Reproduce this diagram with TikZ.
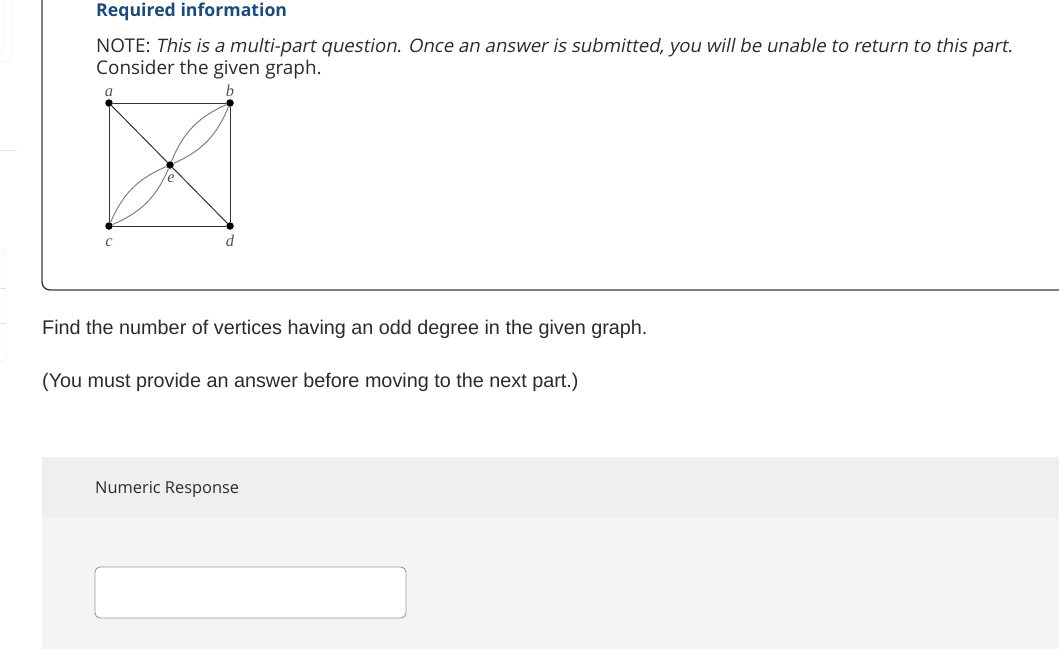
\documentclass[tikz,border=0pt]{standalone}
\usepackage{fontspec}
\setmainfont{Liberation Serif}
\newfontfamily\uifont{Open Sans}
\newfontfamily\uislant{Open Sans}[FakeSlant=0.2]
\newfontfamily\arialfont{Liberation Sans}
\definecolor{frameblue}{HTML}{2C3E50}
\definecolor{titleblue}{HTML}{1E4A78}
\definecolor{bodytext}{HTML}{2B2B2B}
\definecolor{bandgray}{HTML}{EFEFEF}
\definecolor{panelgray}{HTML}{F4F4F4}
\definecolor{faint}{HTML}{E2E2E2}
\definecolor{edgegray}{HTML}{333333}
\tikzset{
  vtx/.style={circle,fill=black,inner sep=0pt,minimum size=7.5pt},
  vlabel/.style={anchor=base,inner sep=0pt,font=\fontsize{16.5}{16}\selectfont\itshape,text=edgegray!85},
  txt/.style={anchor=base west,inner sep=0pt,text=bodytext}
}
\begin{document}
\begin{tikzpicture}[x=1pt,y=-1pt]
\useasboundingbox (0,0) rectangle (1059,649);

\draw[faint,rounded corners=6pt] (-10,-10) rectangle (12,62);
\draw[faint,rounded corners=4pt] (3,-10) -- (3,55) -- (-10,55);
\draw[faint] (0,150) -- (17,150);
\draw[faint,rounded corners=4pt] (-10,249) rectangle (6,361);
\draw[faint] (0,288) -- (6,288);
\draw[faint] (0,323) -- (6,323);

\draw[frameblue,line width=1.4pt,rounded corners=8pt] (42,-5) -- (42,290) -- (1065,290);

\node[txt,text=titleblue,font=\uifont\bfseries\fontsize{17.7}{20}\selectfont] (title) at (96,16) {Required information};
\node[txt,font=\uifont\fontsize{18.9}{20}\selectfont] (note) at (96,52) {NOTE: {\uislant\fontsize{18.6}{20}\selectfont This is a multi-part question. Once an answer is submitted, you will be unable to return to this part.}};
\node[txt,font=\uifont\fontsize{18.9}{20}\selectfont] (consider) at (96,74) {Consider the given graph.};

\node[vtx] (a) at (109,103) {};
\node[vtx] (b) at (230,103) {};
\node[vtx] (c) at (109,226) {};
\node[vtx] (d) at (230,226) {};
\node[vtx] (e) at (170,165) {};
\node[vlabel] (la) at (109,96) {a};
\node[vlabel] (lb) at (230,96) {b};
\node[vlabel] (lc) at (109,246) {c};
\node[vlabel] (ld) at (230,246) {d};
\node[vlabel] (le) at (171,182) {e};

\draw[edgegray,line width=1pt] (a) -- (b) -- (d) -- (c) -- (a);
\draw[edgegray,line width=1pt] (a) -- (e) -- (d);
\draw[gray,line width=1pt] (e) to[bend left=22] (b);
\draw[gray,line width=1pt] (e) to[bend right=22] (b);
\draw[gray,line width=1pt] (c) to[bend left=22] (e);
\draw[gray,line width=1pt] (c) to[bend right=22] (e);

\node[txt,font=\arialfont\fontsize{19.8}{22}\selectfont] (question) at (42,334) {Find the number of vertices having an odd degree in the given graph.};
\node[txt,font=\arialfont\fontsize{19.8}{22}\selectfont] (hint) at (42,387) {(You must provide an answer before moving to the next part.)};

\fill[panelgray] (42,518) rectangle (1059,649);
\fill[bandgray] (42,457) rectangle (1059,518);
\node[txt,font=\uifont\fontsize{16.4}{18}\selectfont] (resp) at (95,493) {Numeric Response};
\draw[fill=white,draw=gray!80,line width=0.9pt,rounded corners=5pt] (95,567) rectangle (406,618);
\end{tikzpicture}
\end{document}
